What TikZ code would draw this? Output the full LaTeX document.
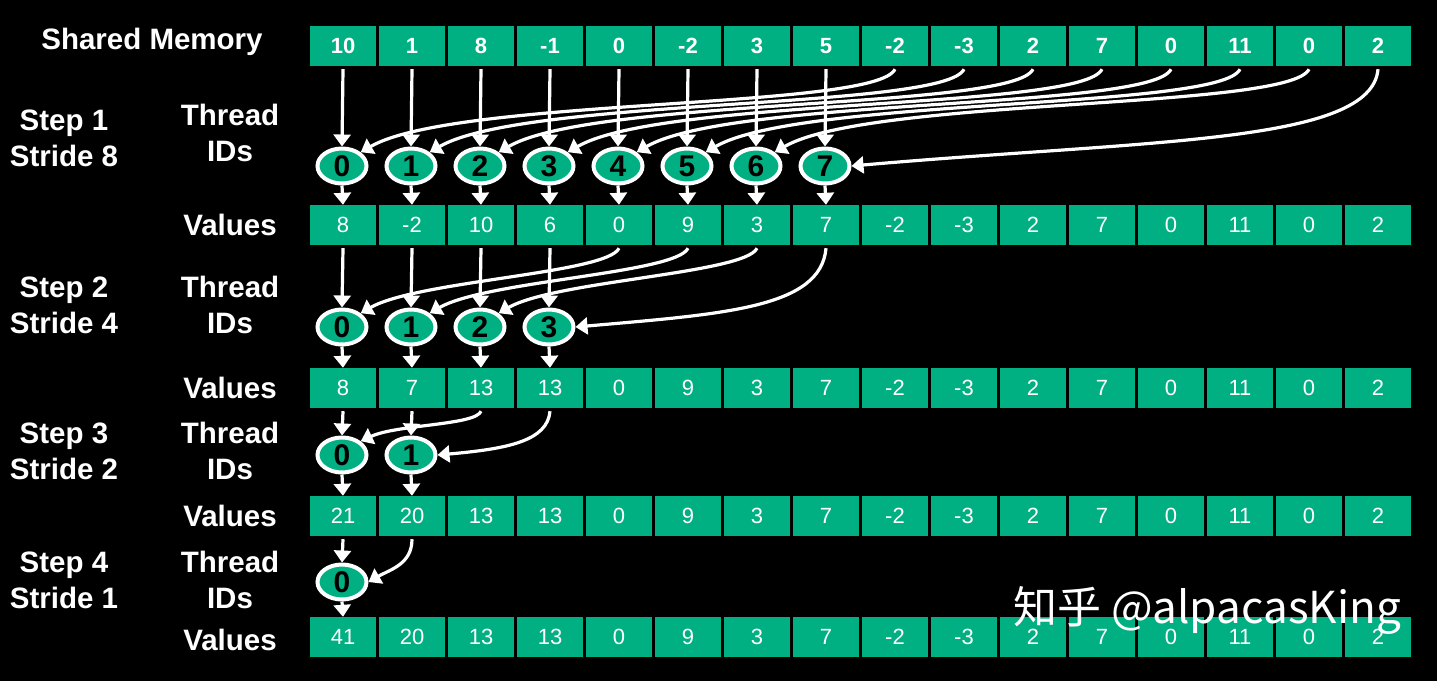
\documentclass[tikz,border=0pt]{standalone}
\usepackage{fontspec}
\setmainfont{Liberation Sans}
\newfontfamily\cjk{Noto Sans CJK SC}
\usetikzlibrary{shapes.geometric,arrows.meta}
\definecolor{cgreen}{RGB}{0,176,130}
\tikzset{
  cellbox/.style={fill=cgreen, minimum width=66pt, minimum height=40pt, inner sep=0pt, text=white, font=\fontsize{22}{22}\selectfont},
  topcell/.style={cellbox, font=\bfseries\fontsize{22}{22}\selectfont},
  tid/.style={ellipse, draw=white, line width=4pt, fill=cgreen, minimum width=49pt, minimum height=35pt, inner sep=0pt, text=black, font=\bfseries\fontsize{30}{30}\selectfont},
  lbl/.style={text=white, align=center, inner sep=0pt, font=\bfseries\fontsize{29.5}{36}\selectfont},
  arr/.style={draw=white, line width=3.2pt, -{Triangle[width=17pt,length=12pt]}},
  curveNE/.style={out=-115, in=30, out distance=45pt, in distance=110pt},
  curveE/.style={out=-95, in=5, out distance=75pt, in distance=300pt},
}
\begin{document}
\begin{tikzpicture}[x=1pt,y=-1pt]
\fill[black] (0,0) rectangle (1437,681);
\useasboundingbox (0,0) rectangle (1437,681);
% labels
\node[lbl] (sm) at (152,42) {Shared Memory};
\node[lbl] (st1) at (64,138) {Step 1\\Stride 8};
\node[lbl] (th1) at (230,133) {Thread\\IDs};
\node[lbl] (va1) at (230,225) {Values};
\node[lbl] (st2) at (64,305) {Step 2\\Stride 4};
\node[lbl] (th2) at (230,305) {Thread\\IDs};
\node[lbl] (va2) at (230,388) {Values};
\node[lbl] (st3) at (64,451) {Step 3\\Stride 2};
\node[lbl] (th3) at (230,451) {Thread\\IDs};
\node[lbl] (va3) at (230,516) {Values};
\node[lbl] (st4) at (64,580) {Step 4\\Stride 1};
\node[lbl] (th4) at (230,580) {Thread\\IDs};
\node[lbl] (va4) at (230,640) {Values};
% rows of cells
\foreach \v [count=\i from 0] in {10,1,8,-1,0,-2,3,5,-2,-3,2,7,0,11,0,2}
  \node[topcell] (m\i) at ({343+69*\i},46) {\v};
\foreach \v [count=\i from 0] in {8,-2,10,6,0,9,3,7,-2,-3,2,7,0,11,0,2}
  \node[cellbox] (v1c\i) at ({343+69*\i},225) {\v};
\foreach \v [count=\i from 0] in {8,7,13,13,0,9,3,7,-2,-3,2,7,0,11,0,2}
  \node[cellbox] (v2c\i) at ({343+69*\i},388) {\v};
\foreach \v [count=\i from 0] in {21,20,13,13,0,9,3,7,-2,-3,2,7,0,11,0,2}
  \node[cellbox] (v3c\i) at ({343+69*\i},516) {\v};
\foreach \v [count=\i from 0] in {41,20,13,13,0,9,3,7,-2,-3,2,7,0,11,0,2}
  \node[cellbox] (v4c\i) at ({343+69*\i},637) {\v};
% thread ellipses
\foreach \i in {0,...,7}
  \node[tid] (t1c\i) at ({342+69*\i},166) {\i};
\foreach \i in {0,...,3}
  \node[tid] (t2c\i) at ({342+69*\i},327) {\i};
\foreach \i in {0,1}
  \node[tid] (t3c\i) at ({342+69*\i},455) {\i};
\node[tid] (t4c0) at (342,582) {0};
% step 1
\foreach \i in {0,...,7}{
  \draw[arr] ([yshift=-3pt]m\i.south) -- (t1c\i.north);
  \draw[arr] (t1c\i.south) -- (v1c\i.north);
}
\foreach \i in {0,...,6}{
  \pgfmathtruncatemacro{\j}{\i+8}
  \draw[arr] ([yshift=-3pt]m\j.south) to[curveNE] (t1c\i.north east);
}
\draw[arr] ([yshift=-3pt]m15.south) to[curveE] (t1c7.east);
% step 2
\foreach \i in {0,...,3}{
  \draw[arr] ([yshift=-3pt]v1c\i.south) -- (t2c\i.north);
  \draw[arr] (t2c\i.south) -- (v2c\i.north);
}
\foreach \i in {0,1,2}{
  \pgfmathtruncatemacro{\j}{\i+4}
  \draw[arr] ([yshift=-3pt]v1c\j.south) to[out=-115, in=30, out distance=28pt, in distance=65pt] (t2c\i.north east);
}
\draw[arr] ([yshift=-3pt]v1c7.south) to[out=-95, in=5, out distance=60pt, in distance=150pt] (t2c3.east);
% step 3
\foreach \i in {0,1}{
  \draw[arr] ([yshift=-3pt]v2c\i.south) -- (t3c\i.north);
  \draw[arr] (t3c\i.south) -- (v3c\i.north);
}
\draw[arr] ([yshift=-3pt]v2c2.south) to[out=-110, in=25, out distance=15pt, in distance=40pt] (t3c0.north east);
\draw[arr] ([yshift=-3pt]v2c3.south) to[out=-95, in=5, out distance=30pt, in distance=70pt] (t3c1.east);
% step 4
\draw[arr] ([yshift=-3pt]v3c0.south) -- (t4c0.north);
\draw[arr] (t4c0.south) -- (v4c0.north);
\draw[arr] ([yshift=-3pt]v3c1.south) to[out=-90, in=30, out distance=25pt, in distance=25pt] (t4c0.east);
% watermark
\node[text=white, inner sep=0pt, font=\cjk\fontsize{44}{44}\selectfont] (wm) at (1207,610) {知乎 @alpacasKing};
\end{tikzpicture}
\end{document}
